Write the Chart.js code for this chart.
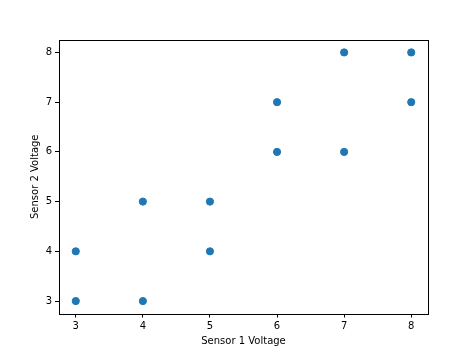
<!DOCTYPE html>
<html>
<head>
<meta charset="utf-8">
<script src="https://cdn.jsdelivr.net/npm/chart.js@4/dist/chart.umd.min.js"></script>
<style>
  html, body { margin: 0; padding: 0; background: #fff; }
  #wrap { width: 474px; height: 353px; }
</style>
</head>
<body>
<div id="wrap"><canvas id="scatterChart" width="474" height="353"></canvas></div>
<script>
// sensor readings
const sensor1 = [3, 3, 4, 4, 5, 5, 6, 6, 7, 7, 8, 8];
const sensor2 = [3, 4, 3, 5, 4, 5, 6, 7, 6, 8, 7, 8];
const xTicks = [3, 4, 5, 6, 7, 8];
const yTicks = [3, 4, 5, 6, 7, 8];

const points = sensor1.map((x, i) => ({ x: x, y: sensor2[i] }));

Chart.defaults.font.family = "'DejaVu Sans', sans-serif";
Chart.defaults.font.size = 10;
Chart.defaults.color = '#000';

// box around the plot area, like matplotlib spines
const frame = {
  id: 'frame',
  afterDraw(chart) {
    const a = chart.chartArea;
    const c = chart.ctx;
    c.save();
    c.strokeStyle = '#000';
    c.lineWidth = 1;
    c.strokeRect(Math.round(a.left) + 0.5, Math.round(a.top) + 0.5,
      Math.round(a.right - a.left), Math.round(a.bottom - a.top));
    c.restore();
  }
};

const ctx = document.getElementById('scatterChart').getContext('2d');
new Chart(ctx, {
  type: 'scatter',
  data: {
    datasets: [{
      data: points,
      backgroundColor: '#1f77b4',
      borderColor: '#1f77b4',
      pointRadius: 3.6,
      pointHoverRadius: 3.6
    }]
  },
  options: {
    responsive: false,
    animation: false,
    layout: { padding: { left: 0, top: 40, right: 46, bottom: 0 } },
    plugins: { legend: { display: false }, tooltip: { enabled: false } },
    scales: {
      x: {
        min: 2.75,
        max: 8.25,
        afterBuildTicks: s => { s.ticks = xTicks.map(v => ({ value: v })); },
        afterFit: s => { s.height = 39.5; },
        grid: { drawOnChartArea: false, drawTicks: true, tickLength: 4, color: '#000' },
        border: { display: false },
        ticks: { padding: 3, maxRotation: 0 },
        title: { display: true, text: 'Sensor 1 Voltage', padding: { top: 0, bottom: 6 } }
      },
      y: {
        min: 2.75,
        max: 8.25,
        afterBuildTicks: s => { s.ticks = yTicks.map(v => ({ value: v })); },
        afterFit: s => { s.width = 59; },
        grid: { drawOnChartArea: false, drawTicks: true, tickLength: 4, color: '#000' },
        border: { display: false },
        ticks: { padding: 3 },
        title: { display: true, text: 'Sensor 2 Voltage', padding: { top: 29, bottom: 0 } }
      }
    }
  },
  plugins: [frame]
});
</script>
</body>
</html>
